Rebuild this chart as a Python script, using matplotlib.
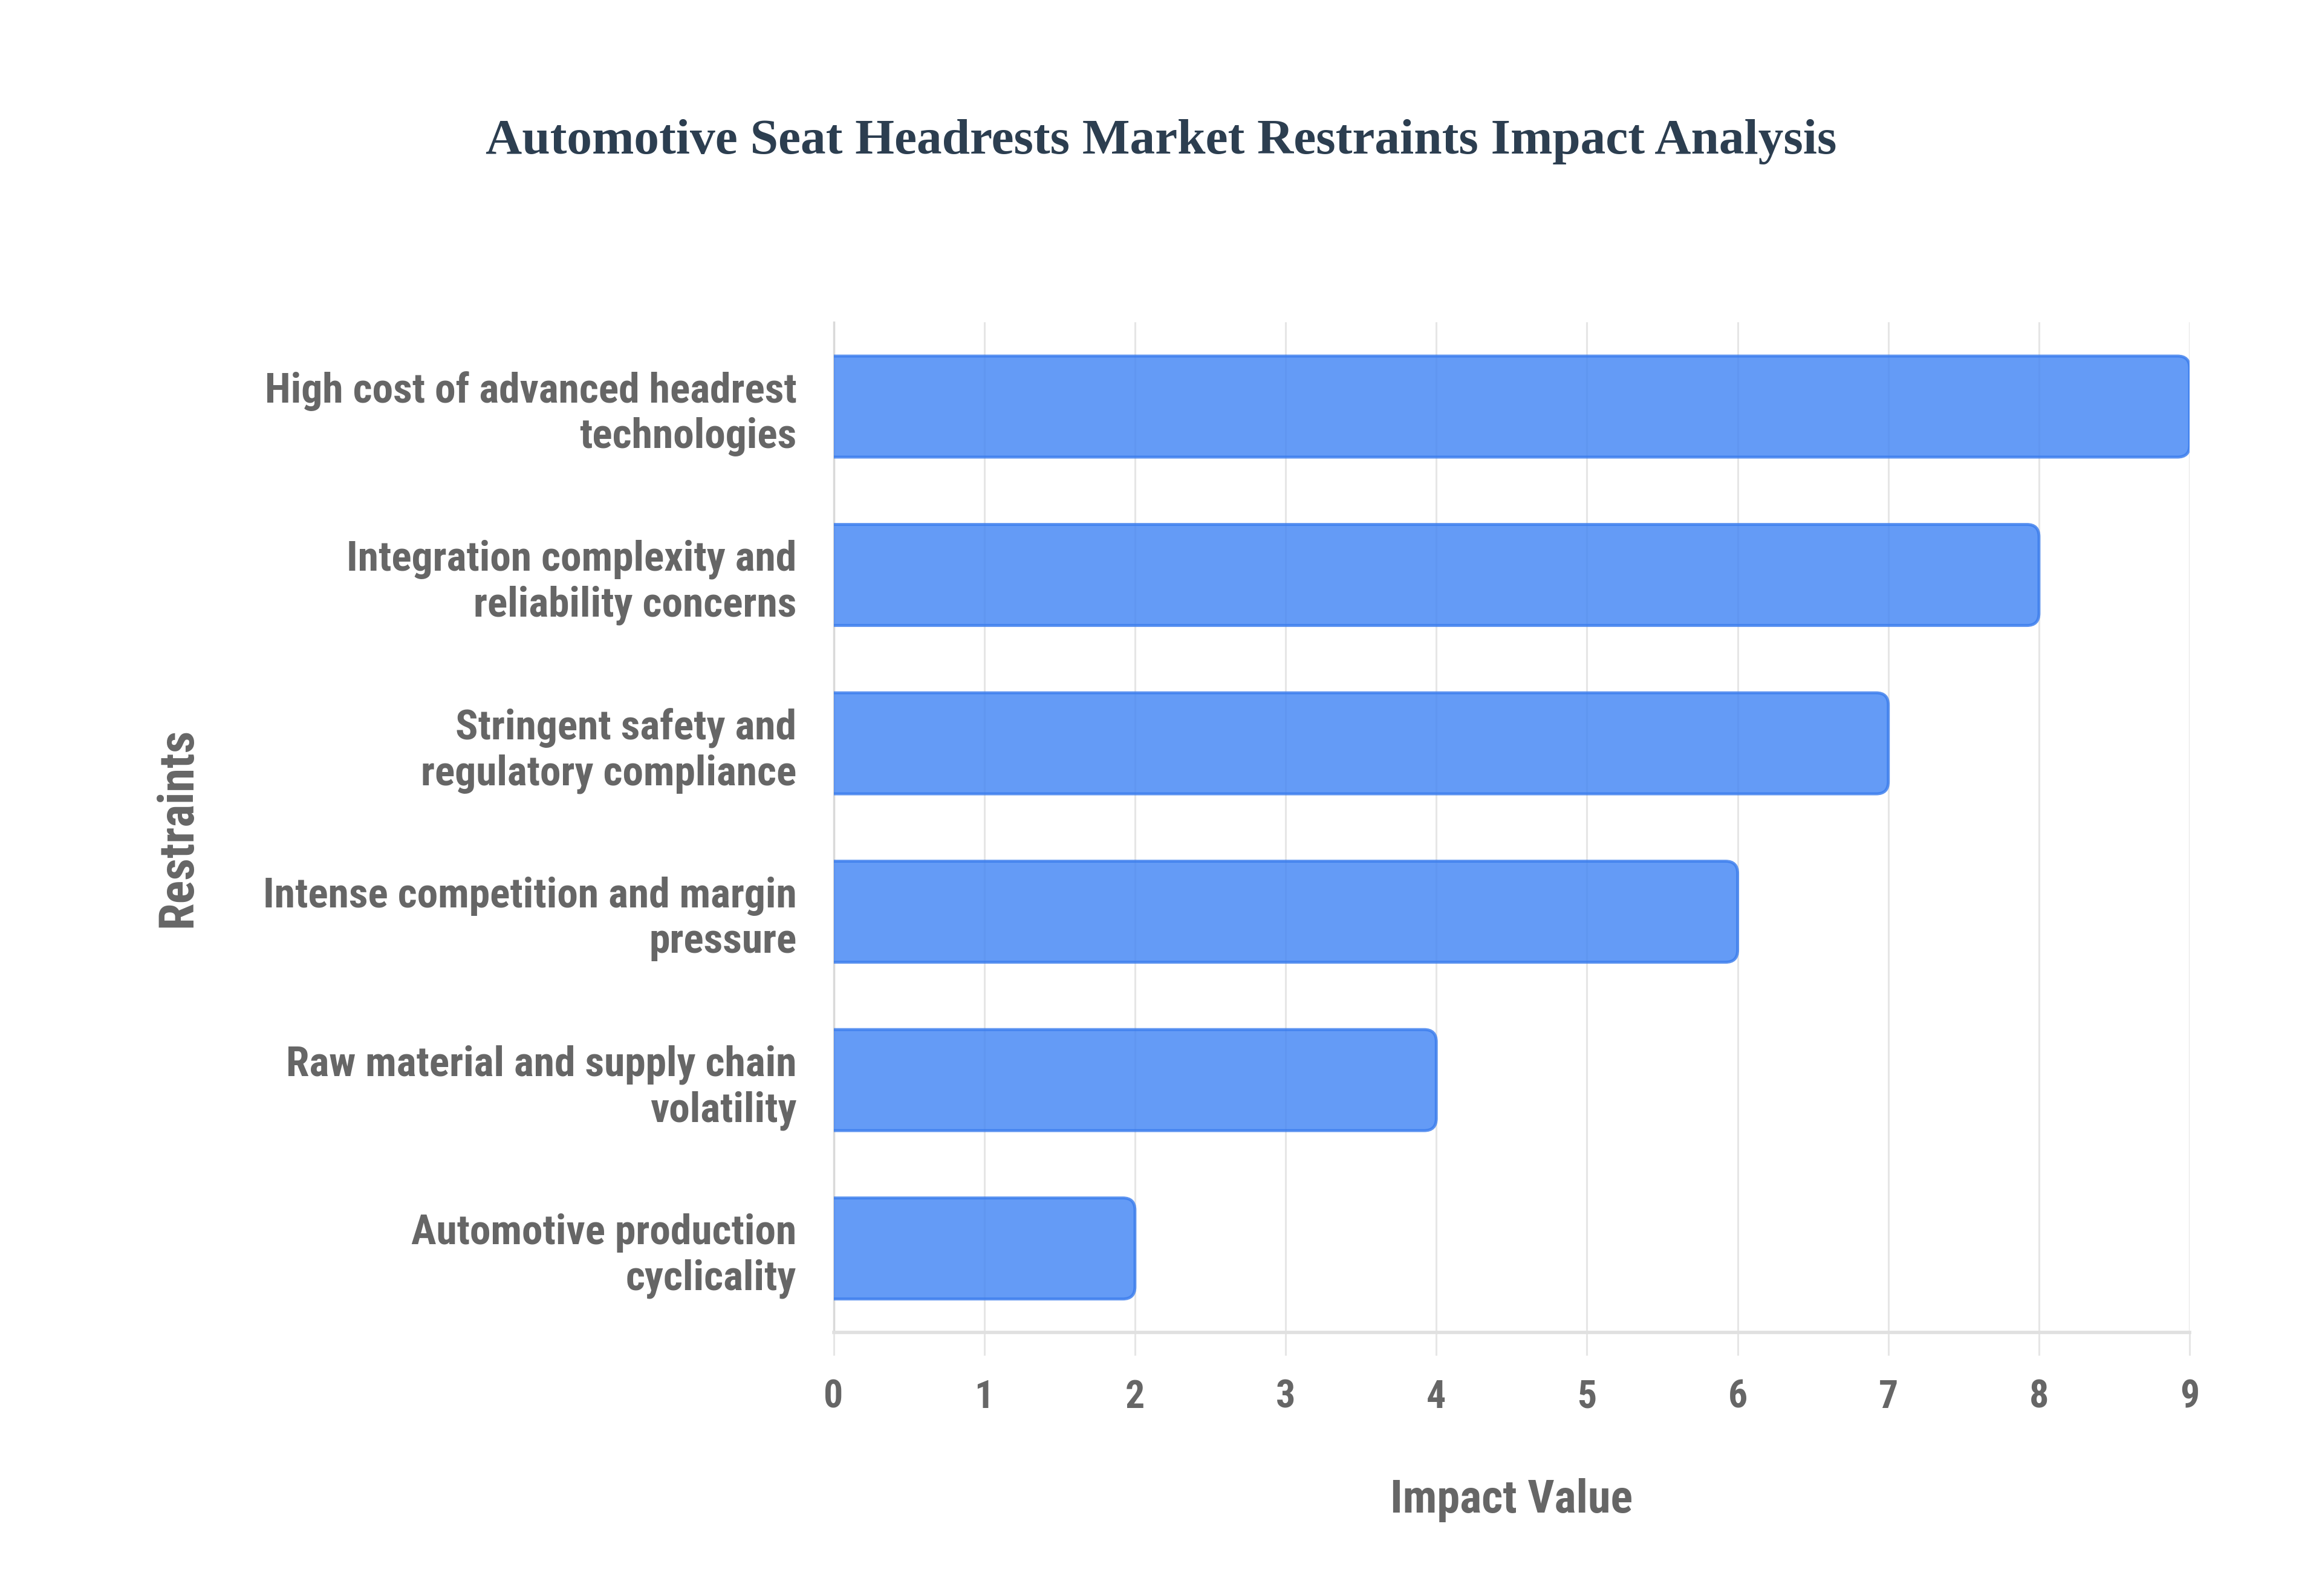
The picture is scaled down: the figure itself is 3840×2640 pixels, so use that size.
import matplotlib
matplotlib.use('Agg')
from matplotlib import pyplot as plt
from matplotlib import font_manager
from matplotlib.patches import FancyBboxPatch

restraints = [
    'High cost of advanced headrest\ntechnologies',
    'Integration complexity and\nreliability concerns',
    'Stringent safety and\nregulatory compliance',
    'Intense competition and margin\npressure',
    'Raw material and supply chain\nvolatility',
    'Automotive production\ncyclicality',
]
impact_values = [9, 8, 7, 6, 4, 2]
x_ticks = [0, 1, 2, 3, 4, 5, 6, 7, 8, 9]


def pick_font():
    names = {f.name for f in font_manager.fontManager.ttflist}
    for name in ['Liberation Sans Narrow', 'Roboto Condensed', 'Liberation Sans']:
        if name in names:
            return name
    return 'DejaVu Sans'


def main():
    label_font = pick_font()
    gray = '#666666'

    fig = plt.figure(figsize=(38.4, 26.4), dpi=100)
    ax = fig.add_axes([0.359, 0.165, 0.584, 0.633])

    y_pos = list(range(len(restraints)))
    bars = ax.barh(y_pos, impact_values, height=0.6, color='#4285F4')
    ax.set_xlim(0, 9)
    ax.set_ylim(len(restraints) - 0.5, -0.5)

    # rounded right end, left end hidden behind the axis
    for bar in bars:
        bar.set_visible(False)
        x0, y0 = bar.get_x(), bar.get_y()
        w, h = bar.get_width(), bar.get_height()
        patch = FancyBboxPatch((x0 - 0.2, y0), w + 0.2, h,
                               boxstyle='round,pad=0,rounding_size=0.08',
                               mutation_aspect=0.9,
                               facecolor='#4285F4', alpha=0.82,
                               edgecolor='#3B7DED', linewidth=3.5,
                               zorder=3)
        ax.add_patch(patch)

    ax.set_xticks(x_ticks)
    ax.set_xticklabels([str(t) for t in x_ticks])
    ax.set_yticks(y_pos)
    ax.set_yticklabels(restraints, linespacing=1.2)

    ax.grid(axis='x', color='#e6e6e6', linewidth=2.2, zorder=0)
    ax.set_axisbelow(True)
    for side in ['top', 'right']:
        ax.spines[side].set_visible(False)
    ax.spines['left'].set_color('#d9d9d9')
    ax.spines['left'].set_linewidth(2.5)
    ax.spines['bottom'].set_color('#e0e0e0')
    ax.spines['bottom'].set_linewidth(4)

    ax.tick_params(axis='x', length=27, width=2.2, color='#e6e6e6', pad=28)
    ax.tick_params(axis='y', length=0, pad=44)
    for lab in ax.get_xticklabels():
        lab.set_fontfamily(label_font)
        lab.set_fontweight('bold')
        lab.set_fontsize(46)
        lab.set_color(gray)
    for lab in ax.get_yticklabels():
        lab.set_fontfamily(label_font)
        lab.set_fontweight('bold')
        lab.set_fontsize(50)
        lab.set_color(gray)

    ax.set_xlabel('Impact Value', fontfamily=label_font, fontweight='bold',
                  fontsize=55, color=gray, labelpad=74)
    ax.set_ylabel('Restraints', fontfamily=label_font, fontweight='bold',
                  fontsize=58, color=gray)
    ax.yaxis.set_label_coords(-0.466, 0.5)

    fig.text(0.5, 0.911, 'Automotive Seat Headrests Market Restraints Impact Analysis',
             ha='center', va='center', fontfamily='Liberation Serif',
             fontweight='bold', fontsize=60, color='#2C3E50')

    fig.savefig('out.png', dpi=100, facecolor='white')


if __name__ == '__main__':
    main()
